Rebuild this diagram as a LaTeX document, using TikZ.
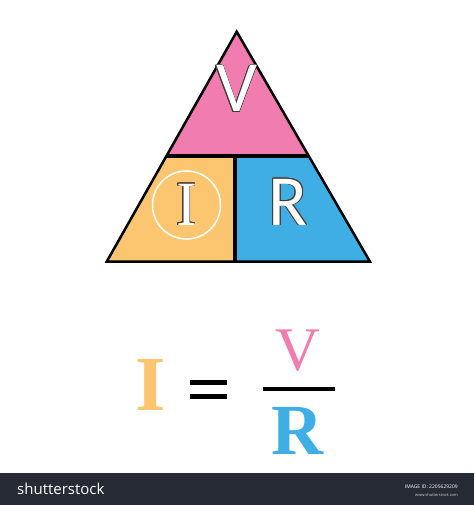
\documentclass[tikz,border=0pt]{standalone}
\usepackage{fontspec}
\usepackage{contour}
\contourlength{0.7pt}
\newfontfamily\carl{Carlito}
\newfontfamily\tnr{Liberation Serif}
\newfontfamily\osans{Open Sans}
\definecolor{vpink}{RGB}{240,124,176}
\definecolor{iorange}{RGB}{252,198,112}
\definecolor{rblue}{RGB}{62,174,228}
\definecolor{barbg}{RGB}{38,42,52}
\definecolor{glyphedge}{RGB}{70,60,55}
\tikzset{
  tri/.style={line width=2.5pt, line join=miter, draw=black},
  divider/.style={line width=4pt, draw=black},
  letter/.style={anchor=base, inner sep=0pt, font=\carl\fontsize{72}{72}\selectfont},
  formula/.style={anchor=base, inner sep=0pt},
}
\begin{document}
\begin{tikzpicture}[x=1pt,y=-1pt]
\useasboundingbox (0,0) rectangle (474,505);
\fill[white] (0,0) rectangle (474,505);
\coordinate (A) at (236.7,31.7);
\coordinate (BL) at (106.7,261.7);
\coordinate (BR) at (370,261.7);
\coordinate (ML) at (166.5,156);
\coordinate (MR) at (308.7,156);
\coordinate (MM) at (235,156);
\coordinate (MB) at (235,261.7);
\fill[vpink] (A) -- (ML) -- (MR) -- cycle;
\fill[iorange] (ML) -- (MM) -- (MB) -- (BL) -- cycle;
\fill[rblue] (MM) -- (MR) -- (BR) -- (MB) -- cycle;
\draw[divider] (ML) -- (MR);
\draw[divider] (MM) -- (MB);
\draw[tri] (A) -- (BL) -- (BR) -- cycle;
\node[letter] (v) at (236.7,112) {\contour{glyphedge}{\textcolor{white}{V}}};
\node[letter] (r) at (288,225) {\contour{glyphedge}{\textcolor{white}{R}}};
\node[draw=white, line width=1.5pt, circle, minimum size=68pt, inner sep=0pt] (ic) at (186.5,205) {};
\node[letter, font=\tnr\fontsize{63}{63}\selectfont] (i) at (186.7,225) {\contour{glyphedge}{\textcolor{white}{I}}};
% formula
\node[formula, font=\tnr\bfseries\fontsize{78}{78}\selectfont, text=iorange] (fi) at (151,410) {I};
\coordinate (e1a) at (190,382); \coordinate (e1b) at (227,382);
\coordinate (e2a) at (190,396.5); \coordinate (e2b) at (227,396.5);
\draw[line width=5pt] (e1a) -- (e1b);
\draw[line width=5pt] (e2a) -- (e2b);
\coordinate (fa) at (263,389); \coordinate (fb) at (335,389);
\draw[line width=4pt] (fa) -- (fb);
\node[formula, font=\tnr\fontsize{62}{62}\selectfont, text=vpink] (fv) at (298,370) {V};
\node[formula, font=\tnr\bfseries\fontsize{72}{72}\selectfont, text=rblue] (fr) at (297,454) {R};
% bottom bar
\fill[barbg] (0,473) rectangle (474,505);
\node[anchor=base west, inner sep=0pt, text=white, font=\osans\fontsize{15}{15}\selectfont] (logo) at (17,494) {shutterstock};
\node[anchor=base east, inner sep=0pt, text=white, font=\osans\fontsize{5}{5}\selectfont] (iid) at (458,488) {IMAGE ID: 2205629209};
\node[anchor=base east, inner sep=0pt, text=white!80!barbg, font=\osans\fontsize{4}{4}\selectfont] (www) at (458,496) {www.shutterstock.com};
\end{tikzpicture}
\end{document}
